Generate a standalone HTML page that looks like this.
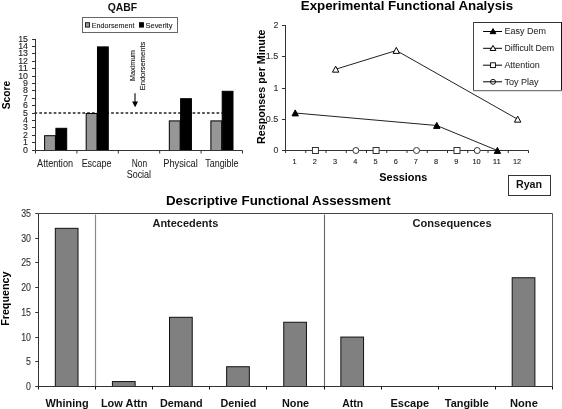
<!DOCTYPE html>
<html><head><meta charset="utf-8"><title>Functional Assessment Charts</title>
<style>
html,body{margin:0;padding:0;background:#fff;}
body{width:562px;height:409px;overflow:hidden;}
svg{display:block;filter:blur(0.35px);}
text{font-family:"Liberation Sans", Arial, sans-serif;}
</style></head>
<body>
<svg width="562" height="409" viewBox="0 0 562 409">
<rect x="0" y="0" width="562" height="409" fill="#fff"/>
<text x="107.80" y="10.90" font-size="10.4" font-weight="bold" fill="#111" textLength="29.40" lengthAdjust="spacingAndGlyphs">QABF</text>
<rect x="82.50" y="17.50" width="95.00" height="15.00" fill="#fff" stroke="#666" stroke-width="1"/>
<rect x="85.50" y="22.70" width="4.00" height="4.40" fill="#999" stroke="#111" stroke-width="0.9"/>
<text x="91.80" y="27.50" font-size="8.0" fill="#222" stroke="#222" stroke-width="0.12" textLength="42.60" lengthAdjust="spacingAndGlyphs">Endorsement</text>
<rect x="139.50" y="22.70" width="4.00" height="4.40" fill="#000" stroke="#000" stroke-width="0.9"/>
<text x="145.60" y="27.50" font-size="8.0" fill="#222" stroke="#222" stroke-width="0.12" textLength="26.80" lengthAdjust="spacingAndGlyphs">Severity</text>
<text x="9.80" y="95.00" font-size="10.6" text-anchor="middle" font-weight="bold" textLength="28.50" lengthAdjust="spacingAndGlyphs" transform="rotate(-90 9.80 95.00)">Score</text>
<line x1="34.50" y1="113.00" x2="233.00" y2="113.00" stroke="#222" stroke-width="1.3" stroke-dasharray="2.7 2.09"/>
<rect x="44.61" y="135.70" width="10.80" height="14.80" fill="#969696" stroke="#000" stroke-width="1"/>
<rect x="55.91" y="128.30" width="10.80" height="22.20" fill="#000" stroke="#000" stroke-width="1"/>
<rect x="86.18" y="113.50" width="10.80" height="37.00" fill="#969696" stroke="#000" stroke-width="1"/>
<rect x="97.48" y="46.90" width="10.80" height="103.60" fill="#000" stroke="#000" stroke-width="1"/>
<rect x="169.32" y="120.90" width="10.80" height="29.60" fill="#969696" stroke="#000" stroke-width="1"/>
<rect x="180.62" y="98.70" width="10.80" height="51.80" fill="#000" stroke="#000" stroke-width="1"/>
<rect x="210.89" y="120.90" width="10.80" height="29.60" fill="#969696" stroke="#000" stroke-width="1"/>
<rect x="222.19" y="91.30" width="10.80" height="59.20" fill="#000" stroke="#000" stroke-width="1"/>
<line x1="35.50" y1="39.00" x2="35.50" y2="151.00" stroke="#333" stroke-width="1"/>
<line x1="35.50" y1="150.50" x2="242.50" y2="150.50" stroke="#333" stroke-width="1"/>
<line x1="32.00" y1="150.50" x2="35.50" y2="150.50" stroke="#333" stroke-width="1"/>
<text x="28.00" y="152.50" font-size="8.9" text-anchor="end" fill="#222" stroke="#222" stroke-width="0.12" textLength="4.90" lengthAdjust="spacingAndGlyphs">0</text>
<line x1="32.00" y1="142.50" x2="35.50" y2="142.50" stroke="#333" stroke-width="1"/>
<text x="28.00" y="144.50" font-size="8.9" text-anchor="end" fill="#222" stroke="#222" stroke-width="0.12" textLength="4.90" lengthAdjust="spacingAndGlyphs">1</text>
<line x1="32.00" y1="135.50" x2="35.50" y2="135.50" stroke="#333" stroke-width="1"/>
<text x="28.00" y="137.50" font-size="8.9" text-anchor="end" fill="#222" stroke="#222" stroke-width="0.12" textLength="4.90" lengthAdjust="spacingAndGlyphs">2</text>
<line x1="32.00" y1="127.50" x2="35.50" y2="127.50" stroke="#333" stroke-width="1"/>
<text x="28.00" y="129.50" font-size="8.9" text-anchor="end" fill="#222" stroke="#222" stroke-width="0.12" textLength="4.90" lengthAdjust="spacingAndGlyphs">3</text>
<line x1="32.00" y1="120.50" x2="35.50" y2="120.50" stroke="#333" stroke-width="1"/>
<text x="28.00" y="122.50" font-size="8.9" text-anchor="end" fill="#222" stroke="#222" stroke-width="0.12" textLength="4.90" lengthAdjust="spacingAndGlyphs">4</text>
<line x1="32.00" y1="113.50" x2="35.50" y2="113.50" stroke="#333" stroke-width="1"/>
<text x="28.00" y="115.50" font-size="8.9" text-anchor="end" fill="#222" stroke="#222" stroke-width="0.12" textLength="4.90" lengthAdjust="spacingAndGlyphs">5</text>
<line x1="32.00" y1="105.50" x2="35.50" y2="105.50" stroke="#333" stroke-width="1"/>
<text x="28.00" y="107.50" font-size="8.9" text-anchor="end" fill="#222" stroke="#222" stroke-width="0.12" textLength="4.90" lengthAdjust="spacingAndGlyphs">6</text>
<line x1="32.00" y1="98.50" x2="35.50" y2="98.50" stroke="#333" stroke-width="1"/>
<text x="28.00" y="100.50" font-size="8.9" text-anchor="end" fill="#222" stroke="#222" stroke-width="0.12" textLength="4.90" lengthAdjust="spacingAndGlyphs">7</text>
<line x1="32.00" y1="90.50" x2="35.50" y2="90.50" stroke="#333" stroke-width="1"/>
<text x="28.00" y="92.50" font-size="8.9" text-anchor="end" fill="#222" stroke="#222" stroke-width="0.12" textLength="4.90" lengthAdjust="spacingAndGlyphs">8</text>
<line x1="32.00" y1="83.50" x2="35.50" y2="83.50" stroke="#333" stroke-width="1"/>
<text x="28.00" y="85.50" font-size="8.9" text-anchor="end" fill="#222" stroke="#222" stroke-width="0.12" textLength="4.90" lengthAdjust="spacingAndGlyphs">9</text>
<line x1="32.00" y1="76.50" x2="35.50" y2="76.50" stroke="#333" stroke-width="1"/>
<text x="28.00" y="78.50" font-size="8.9" text-anchor="end" fill="#222" stroke="#222" stroke-width="0.12" textLength="9.80" lengthAdjust="spacingAndGlyphs">10</text>
<line x1="32.00" y1="68.50" x2="35.50" y2="68.50" stroke="#333" stroke-width="1"/>
<text x="28.00" y="70.50" font-size="8.9" text-anchor="end" fill="#222" stroke="#222" stroke-width="0.12" textLength="9.80" lengthAdjust="spacingAndGlyphs">11</text>
<line x1="32.00" y1="61.50" x2="35.50" y2="61.50" stroke="#333" stroke-width="1"/>
<text x="28.00" y="63.50" font-size="8.9" text-anchor="end" fill="#222" stroke="#222" stroke-width="0.12" textLength="9.80" lengthAdjust="spacingAndGlyphs">12</text>
<line x1="32.00" y1="53.50" x2="35.50" y2="53.50" stroke="#333" stroke-width="1"/>
<text x="28.00" y="55.50" font-size="8.9" text-anchor="end" fill="#222" stroke="#222" stroke-width="0.12" textLength="9.80" lengthAdjust="spacingAndGlyphs">13</text>
<line x1="32.00" y1="46.50" x2="35.50" y2="46.50" stroke="#333" stroke-width="1"/>
<text x="28.00" y="48.50" font-size="8.9" text-anchor="end" fill="#222" stroke="#222" stroke-width="0.12" textLength="9.80" lengthAdjust="spacingAndGlyphs">14</text>
<line x1="32.00" y1="39.50" x2="35.50" y2="39.50" stroke="#333" stroke-width="1"/>
<text x="28.00" y="41.50" font-size="8.9" text-anchor="end" fill="#222" stroke="#222" stroke-width="0.12" textLength="9.80" lengthAdjust="spacingAndGlyphs">15</text>
<line x1="35.50" y1="150.50" x2="35.50" y2="153.50" stroke="#333" stroke-width="1"/>
<line x1="76.90" y1="150.50" x2="76.90" y2="153.50" stroke="#333" stroke-width="1"/>
<line x1="118.30" y1="150.50" x2="118.30" y2="153.50" stroke="#333" stroke-width="1"/>
<line x1="159.70" y1="150.50" x2="159.70" y2="153.50" stroke="#333" stroke-width="1"/>
<line x1="201.10" y1="150.50" x2="201.10" y2="153.50" stroke="#333" stroke-width="1"/>
<line x1="242.50" y1="150.50" x2="242.50" y2="153.50" stroke="#333" stroke-width="1"/>
<text x="55.05" y="166.70" font-size="10.6" text-anchor="middle" fill="#222" stroke="#222" stroke-width="0.04" textLength="36.00" lengthAdjust="spacingAndGlyphs">Attention</text>
<text x="96.55" y="166.70" font-size="10.6" text-anchor="middle" fill="#222" stroke="#222" stroke-width="0.04" textLength="29.80" lengthAdjust="spacingAndGlyphs">Escape</text>
<text x="139.40" y="166.70" font-size="10.6" text-anchor="middle" fill="#222" stroke="#222" stroke-width="0.04" textLength="15.40" lengthAdjust="spacingAndGlyphs">Non</text>
<text x="180.50" y="166.70" font-size="10.6" text-anchor="middle" fill="#222" stroke="#222" stroke-width="0.04" textLength="34.40" lengthAdjust="spacingAndGlyphs">Physical</text>
<text x="221.90" y="166.70" font-size="10.6" text-anchor="middle" fill="#222" stroke="#222" stroke-width="0.04" textLength="33.20" lengthAdjust="spacingAndGlyphs">Tangible</text>
<text x="138.90" y="177.80" font-size="10.6" text-anchor="middle" fill="#222" stroke="#222" stroke-width="0.04" textLength="24.40" lengthAdjust="spacingAndGlyphs">Social</text>
<line x1="135.00" y1="93.20" x2="135.00" y2="102.50" stroke="#000" stroke-width="1.1"/>
<path d="M132.1 101.5 L138.1 101.5 L135.1 107.3 Z" fill="#000"/>
<text x="135.20" y="65.40" font-size="7.8" text-anchor="middle" fill="#222" stroke="#222" stroke-width="0.12" textLength="31.00" lengthAdjust="spacingAndGlyphs" transform="rotate(-90 135.20 65.40)">Maximum</text>
<text x="145.00" y="66.00" font-size="7.8" text-anchor="middle" fill="#222" stroke="#222" stroke-width="0.12" textLength="48.60" lengthAdjust="spacingAndGlyphs" transform="rotate(-90 145.00 66.00)">Endorsements</text>
<text x="300.80" y="9.80" font-size="12.7" font-weight="bold" textLength="212.40" lengthAdjust="spacingAndGlyphs">Experimental Functional Analysis</text>
<text x="264.60" y="86.80" font-size="10.6" text-anchor="middle" font-weight="bold" textLength="114.50" lengthAdjust="spacingAndGlyphs" transform="rotate(-90 264.60 86.80)">Responses per Minute</text>
<line x1="285.50" y1="25.00" x2="285.50" y2="153.00" stroke="#333" stroke-width="1"/>
<line x1="285.00" y1="150.50" x2="528.50" y2="150.50" stroke="#333" stroke-width="1"/>
<line x1="282.00" y1="150.50" x2="285.50" y2="150.50" stroke="#333" stroke-width="1"/>
<text x="278.40" y="153.10" font-size="9.6" text-anchor="end" fill="#333" stroke="#333" stroke-width="0.12" textLength="4.90" lengthAdjust="spacingAndGlyphs">0</text>
<line x1="282.00" y1="119.50" x2="285.50" y2="119.50" stroke="#333" stroke-width="1"/>
<text x="278.40" y="122.10" font-size="9.6" text-anchor="end" fill="#333" stroke="#333" stroke-width="0.12" textLength="12.60" lengthAdjust="spacingAndGlyphs">0.5</text>
<line x1="282.00" y1="88.50" x2="285.50" y2="88.50" stroke="#333" stroke-width="1"/>
<text x="278.40" y="91.10" font-size="9.6" text-anchor="end" fill="#333" stroke="#333" stroke-width="0.12" textLength="4.90" lengthAdjust="spacingAndGlyphs">1</text>
<line x1="282.00" y1="56.50" x2="285.50" y2="56.50" stroke="#333" stroke-width="1"/>
<text x="278.40" y="59.10" font-size="9.6" text-anchor="end" fill="#333" stroke="#333" stroke-width="0.12" textLength="12.60" lengthAdjust="spacingAndGlyphs">1.5</text>
<line x1="282.00" y1="25.50" x2="285.50" y2="25.50" stroke="#333" stroke-width="1"/>
<text x="278.40" y="28.10" font-size="9.6" text-anchor="end" fill="#333" stroke="#333" stroke-width="0.12" textLength="4.90" lengthAdjust="spacingAndGlyphs">2</text>
<line x1="305.75" y1="150.50" x2="305.75" y2="153.00" stroke="#333" stroke-width="1"/>
<line x1="326.00" y1="150.50" x2="326.00" y2="153.00" stroke="#333" stroke-width="1"/>
<line x1="346.25" y1="150.50" x2="346.25" y2="153.00" stroke="#333" stroke-width="1"/>
<line x1="366.50" y1="150.50" x2="366.50" y2="153.00" stroke="#333" stroke-width="1"/>
<line x1="386.75" y1="150.50" x2="386.75" y2="153.00" stroke="#333" stroke-width="1"/>
<line x1="407.00" y1="150.50" x2="407.00" y2="153.00" stroke="#333" stroke-width="1"/>
<line x1="427.25" y1="150.50" x2="427.25" y2="153.00" stroke="#333" stroke-width="1"/>
<line x1="447.50" y1="150.50" x2="447.50" y2="153.00" stroke="#333" stroke-width="1"/>
<line x1="467.75" y1="150.50" x2="467.75" y2="153.00" stroke="#333" stroke-width="1"/>
<line x1="488.00" y1="150.50" x2="488.00" y2="153.00" stroke="#333" stroke-width="1"/>
<line x1="508.25" y1="150.50" x2="508.25" y2="153.00" stroke="#333" stroke-width="1"/>
<line x1="528.50" y1="150.50" x2="528.50" y2="153.00" stroke="#333" stroke-width="1"/>
<text x="294.60" y="163.60" font-size="8.0" text-anchor="middle" fill="#222" stroke="#222" stroke-width="0.12" textLength="4.10" lengthAdjust="spacingAndGlyphs">1</text>
<text x="314.82" y="163.60" font-size="8.0" text-anchor="middle" fill="#222" stroke="#222" stroke-width="0.12" textLength="4.10" lengthAdjust="spacingAndGlyphs">2</text>
<text x="335.04" y="163.60" font-size="8.0" text-anchor="middle" fill="#222" stroke="#222" stroke-width="0.12" textLength="4.10" lengthAdjust="spacingAndGlyphs">3</text>
<text x="355.26" y="163.60" font-size="8.0" text-anchor="middle" fill="#222" stroke="#222" stroke-width="0.12" textLength="4.10" lengthAdjust="spacingAndGlyphs">4</text>
<text x="375.48" y="163.60" font-size="8.0" text-anchor="middle" fill="#222" stroke="#222" stroke-width="0.12" textLength="4.10" lengthAdjust="spacingAndGlyphs">5</text>
<text x="395.70" y="163.60" font-size="8.0" text-anchor="middle" fill="#222" stroke="#222" stroke-width="0.12" textLength="4.10" lengthAdjust="spacingAndGlyphs">6</text>
<text x="415.92" y="163.60" font-size="8.0" text-anchor="middle" fill="#222" stroke="#222" stroke-width="0.12" textLength="4.10" lengthAdjust="spacingAndGlyphs">7</text>
<text x="436.14" y="163.60" font-size="8.0" text-anchor="middle" fill="#222" stroke="#222" stroke-width="0.12" textLength="4.10" lengthAdjust="spacingAndGlyphs">8</text>
<text x="456.36" y="163.60" font-size="8.0" text-anchor="middle" fill="#222" stroke="#222" stroke-width="0.12" textLength="4.10" lengthAdjust="spacingAndGlyphs">9</text>
<text x="476.58" y="163.60" font-size="8.0" text-anchor="middle" fill="#222" stroke="#222" stroke-width="0.12" textLength="8.20" lengthAdjust="spacingAndGlyphs">10</text>
<text x="496.80" y="163.60" font-size="8.0" text-anchor="middle" fill="#222" stroke="#222" stroke-width="0.12" textLength="8.20" lengthAdjust="spacingAndGlyphs">11</text>
<text x="517.02" y="163.60" font-size="8.0" text-anchor="middle" fill="#222" stroke="#222" stroke-width="0.12" textLength="8.20" lengthAdjust="spacingAndGlyphs">12</text>
<text x="379.30" y="180.60" font-size="10.9" font-weight="bold" textLength="48.00" lengthAdjust="spacingAndGlyphs">Sessions</text>
<polyline points="295.22,113.00 436.76,125.50 497.42,150.50" fill="none" stroke="#222" stroke-width="1"/>
<polyline points="335.66,69.25 396.32,50.50 517.64,119.25" fill="none" stroke="#222" stroke-width="1"/>
<path d="M295.22 109.90 L298.42 115.90 L292.02 115.90 Z" fill="#000" stroke="#000" stroke-width="1"/>
<path d="M436.76 122.40 L439.96 128.40 L433.56 128.40 Z" fill="#000" stroke="#000" stroke-width="1"/>
<path d="M497.42 147.40 L500.62 153.40 L494.22 153.40 Z" fill="#000" stroke="#000" stroke-width="1"/>
<path d="M335.66 66.15 L338.86 72.15 L332.46 72.15 Z" fill="#fff" stroke="#000" stroke-width="1"/>
<path d="M396.32 47.40 L399.52 53.40 L393.12 53.40 Z" fill="#fff" stroke="#000" stroke-width="1"/>
<path d="M517.64 116.15 L520.84 122.15 L514.44 122.15 Z" fill="#fff" stroke="#000" stroke-width="1"/>
<rect x="312.44" y="147.50" width="6.00" height="6.00" fill="#fff" stroke="#333" stroke-width="1"/>
<rect x="373.10" y="147.50" width="6.00" height="6.00" fill="#fff" stroke="#333" stroke-width="1"/>
<rect x="453.98" y="147.50" width="6.00" height="6.00" fill="#fff" stroke="#333" stroke-width="1"/>
<circle cx="355.88" cy="150.50" r="3" fill="#fff" stroke="#333" stroke-width="1"/>
<circle cx="416.54" cy="150.50" r="3" fill="#fff" stroke="#333" stroke-width="1"/>
<circle cx="477.20" cy="150.50" r="3" fill="#fff" stroke="#333" stroke-width="1"/>
<rect x="473.50" y="22.50" width="88.00" height="68.00" fill="#fff" stroke="none" stroke-width="0"/>
<line x1="473.00" y1="22.50" x2="562.00" y2="22.50" stroke="#333" stroke-width="1"/>
<line x1="473.50" y1="22.50" x2="473.50" y2="91.00" stroke="#444" stroke-width="1"/>
<line x1="561.50" y1="22.50" x2="561.50" y2="91.00" stroke="#111" stroke-width="1"/>
<line x1="473.00" y1="90.60" x2="562.00" y2="90.60" stroke="#777" stroke-width="1.3"/>
<line x1="483.10" y1="31.50" x2="502.00" y2="31.50" stroke="#000" stroke-width="1"/>
<path d="M493.00 28.60 L495.90 33.67 L490.10 33.67 Z" fill="#000" stroke="#000" stroke-width="1"/>
<text x="504.40" y="34.30" font-size="9.7" fill="#2a2a2a" stroke="#2a2a2a" stroke-width="0.05" textLength="41.50" lengthAdjust="spacingAndGlyphs">Easy Dem</text>
<line x1="483.10" y1="48.30" x2="502.00" y2="48.30" stroke="#000" stroke-width="1"/>
<path d="M493.00 45.40 L495.90 50.47 L490.10 50.47 Z" fill="#fff" stroke="#000" stroke-width="1"/>
<text x="504.40" y="51.10" font-size="9.7" fill="#2a2a2a" stroke="#2a2a2a" stroke-width="0.05" textLength="49.80" lengthAdjust="spacingAndGlyphs">Difficult Dem</text>
<line x1="483.10" y1="65.20" x2="502.00" y2="65.20" stroke="#000" stroke-width="1"/>
<rect x="490.60" y="62.80" width="4.80" height="4.80" fill="#fff" stroke="#000" stroke-width="0.9"/>
<text x="504.40" y="68.00" font-size="9.7" fill="#2a2a2a" stroke="#2a2a2a" stroke-width="0.05" textLength="35.40" lengthAdjust="spacingAndGlyphs">Attention</text>
<circle cx="493.0" cy="81.8" r="2.5" fill="#fff" stroke="#000" stroke-width="0.9"/>
<line x1="483.10" y1="81.80" x2="502.00" y2="81.80" stroke="#000" stroke-width="1"/>
<text x="504.40" y="84.60" font-size="9.7" fill="#2a2a2a" stroke="#2a2a2a" stroke-width="0.05" textLength="34.20" lengthAdjust="spacingAndGlyphs">Toy Play</text>
<rect x="508.50" y="175.50" width="42.00" height="20.00" fill="#fff" stroke="#333" stroke-width="1"/>
<text x="515.90" y="188.40" font-size="11.5" font-weight="bold" fill="#111" textLength="26.20" lengthAdjust="spacingAndGlyphs">Ryan</text>
<text x="165.90" y="204.50" font-size="12.7" font-weight="bold" textLength="224.80" lengthAdjust="spacingAndGlyphs">Descriptive Functional Assessment</text>
<text x="8.90" y="298.70" font-size="10.8" text-anchor="middle" font-weight="bold" textLength="54.30" lengthAdjust="spacingAndGlyphs" transform="rotate(-90 8.90 298.70)">Frequency</text>
<line x1="38.50" y1="213.50" x2="552.50" y2="213.50" stroke="#444" stroke-width="1"/>
<line x1="552.50" y1="213.50" x2="552.50" y2="386.50" stroke="#555" stroke-width="1"/>
<line x1="95.50" y1="214.50" x2="95.50" y2="386.50" stroke="#8a8a8a" stroke-width="1.2"/>
<line x1="324.50" y1="214.50" x2="324.50" y2="386.50" stroke="#666" stroke-width="1.1"/>
<rect x="55.31" y="228.32" width="22.70" height="158.18" fill="#808080" stroke="#111" stroke-width="1"/>
<rect x="112.42" y="381.56" width="22.70" height="4.94" fill="#808080" stroke="#111" stroke-width="1"/>
<rect x="169.53" y="317.30" width="22.70" height="69.20" fill="#808080" stroke="#111" stroke-width="1"/>
<rect x="226.64" y="366.73" width="22.70" height="19.77" fill="#808080" stroke="#111" stroke-width="1"/>
<rect x="283.75" y="322.24" width="22.70" height="64.26" fill="#808080" stroke="#111" stroke-width="1"/>
<rect x="340.86" y="337.07" width="22.70" height="49.43" fill="#808080" stroke="#111" stroke-width="1"/>
<rect x="512.19" y="277.75" width="22.70" height="108.75" fill="#808080" stroke="#111" stroke-width="1"/>
<line x1="38.50" y1="213.50" x2="38.50" y2="386.50" stroke="#333" stroke-width="1"/>
<line x1="38.50" y1="386.50" x2="552.50" y2="386.50" stroke="#333" stroke-width="1"/>
<line x1="35.30" y1="386.50" x2="38.50" y2="386.50" stroke="#333" stroke-width="1"/>
<text x="31.00" y="389.80" font-size="10.8" text-anchor="end" fill="#333" stroke="#333" stroke-width="0.12" textLength="4.90" lengthAdjust="spacingAndGlyphs">0</text>
<line x1="35.30" y1="361.50" x2="38.50" y2="361.50" stroke="#333" stroke-width="1"/>
<text x="31.00" y="364.80" font-size="10.8" text-anchor="end" fill="#333" stroke="#333" stroke-width="0.12" textLength="4.90" lengthAdjust="spacingAndGlyphs">5</text>
<line x1="35.30" y1="337.50" x2="38.50" y2="337.50" stroke="#333" stroke-width="1"/>
<text x="31.00" y="340.80" font-size="10.8" text-anchor="end" fill="#333" stroke="#333" stroke-width="0.12" textLength="9.80" lengthAdjust="spacingAndGlyphs">10</text>
<line x1="35.30" y1="312.50" x2="38.50" y2="312.50" stroke="#333" stroke-width="1"/>
<text x="31.00" y="315.80" font-size="10.8" text-anchor="end" fill="#333" stroke="#333" stroke-width="0.12" textLength="9.80" lengthAdjust="spacingAndGlyphs">15</text>
<line x1="35.30" y1="287.50" x2="38.50" y2="287.50" stroke="#333" stroke-width="1"/>
<text x="31.00" y="290.80" font-size="10.8" text-anchor="end" fill="#333" stroke="#333" stroke-width="0.12" textLength="9.80" lengthAdjust="spacingAndGlyphs">20</text>
<line x1="35.30" y1="262.50" x2="38.50" y2="262.50" stroke="#333" stroke-width="1"/>
<text x="31.00" y="265.80" font-size="10.8" text-anchor="end" fill="#333" stroke="#333" stroke-width="0.12" textLength="9.80" lengthAdjust="spacingAndGlyphs">25</text>
<line x1="35.30" y1="238.50" x2="38.50" y2="238.50" stroke="#333" stroke-width="1"/>
<text x="31.00" y="241.80" font-size="10.8" text-anchor="end" fill="#333" stroke="#333" stroke-width="0.12" textLength="9.80" lengthAdjust="spacingAndGlyphs">30</text>
<line x1="35.30" y1="213.50" x2="38.50" y2="213.50" stroke="#333" stroke-width="1"/>
<text x="31.00" y="216.80" font-size="10.8" text-anchor="end" fill="#333" stroke="#333" stroke-width="0.12" textLength="9.80" lengthAdjust="spacingAndGlyphs">35</text>
<line x1="38.50" y1="386.50" x2="38.50" y2="389.50" stroke="#111" stroke-width="1"/>
<line x1="95.50" y1="386.50" x2="95.50" y2="389.50" stroke="#111" stroke-width="1"/>
<line x1="152.50" y1="386.50" x2="152.50" y2="389.50" stroke="#111" stroke-width="1"/>
<line x1="209.50" y1="386.50" x2="209.50" y2="389.50" stroke="#111" stroke-width="1"/>
<line x1="266.50" y1="386.50" x2="266.50" y2="389.50" stroke="#111" stroke-width="1"/>
<line x1="324.50" y1="386.50" x2="324.50" y2="389.50" stroke="#111" stroke-width="1"/>
<line x1="381.50" y1="386.50" x2="381.50" y2="389.50" stroke="#111" stroke-width="1"/>
<line x1="438.50" y1="386.50" x2="438.50" y2="389.50" stroke="#111" stroke-width="1"/>
<line x1="495.50" y1="386.50" x2="495.50" y2="389.50" stroke="#111" stroke-width="1"/>
<line x1="552.50" y1="386.50" x2="552.50" y2="389.50" stroke="#111" stroke-width="1"/>
<text x="67.06" y="406.60" font-size="11.7" text-anchor="middle" font-weight="bold" fill="#111" textLength="43.00" lengthAdjust="spacingAndGlyphs">Whining</text>
<text x="124.17" y="406.60" font-size="11.7" text-anchor="middle" font-weight="bold" fill="#111" textLength="46.50" lengthAdjust="spacingAndGlyphs">Low Attn</text>
<text x="181.28" y="406.60" font-size="11.7" text-anchor="middle" font-weight="bold" fill="#111" textLength="42.70" lengthAdjust="spacingAndGlyphs">Demand</text>
<text x="238.39" y="406.60" font-size="11.7" text-anchor="middle" font-weight="bold" fill="#111" textLength="35.90" lengthAdjust="spacingAndGlyphs">Denied</text>
<text x="295.50" y="406.60" font-size="11.7" text-anchor="middle" font-weight="bold" fill="#111" textLength="27.10" lengthAdjust="spacingAndGlyphs">None</text>
<text x="352.61" y="406.60" font-size="11.7" text-anchor="middle" font-weight="bold" fill="#111" textLength="20.90" lengthAdjust="spacingAndGlyphs">Attn</text>
<text x="409.72" y="406.60" font-size="11.7" text-anchor="middle" font-weight="bold" fill="#111" textLength="38.60" lengthAdjust="spacingAndGlyphs">Escape</text>
<text x="466.83" y="406.60" font-size="11.7" text-anchor="middle" font-weight="bold" fill="#111" textLength="44.00" lengthAdjust="spacingAndGlyphs">Tangible</text>
<text x="523.94" y="406.60" font-size="11.7" text-anchor="middle" font-weight="bold" fill="#111" textLength="27.80" lengthAdjust="spacingAndGlyphs">None</text>
<text x="152.50" y="227.00" font-size="10.8" font-weight="bold" fill="#1a1a1a" textLength="65.80" lengthAdjust="spacingAndGlyphs">Antecedents</text>
<text x="412.50" y="227.20" font-size="11.0" font-weight="bold" fill="#1a1a1a" textLength="79.10" lengthAdjust="spacingAndGlyphs">Consequences</text>
</svg>
</body></html>
